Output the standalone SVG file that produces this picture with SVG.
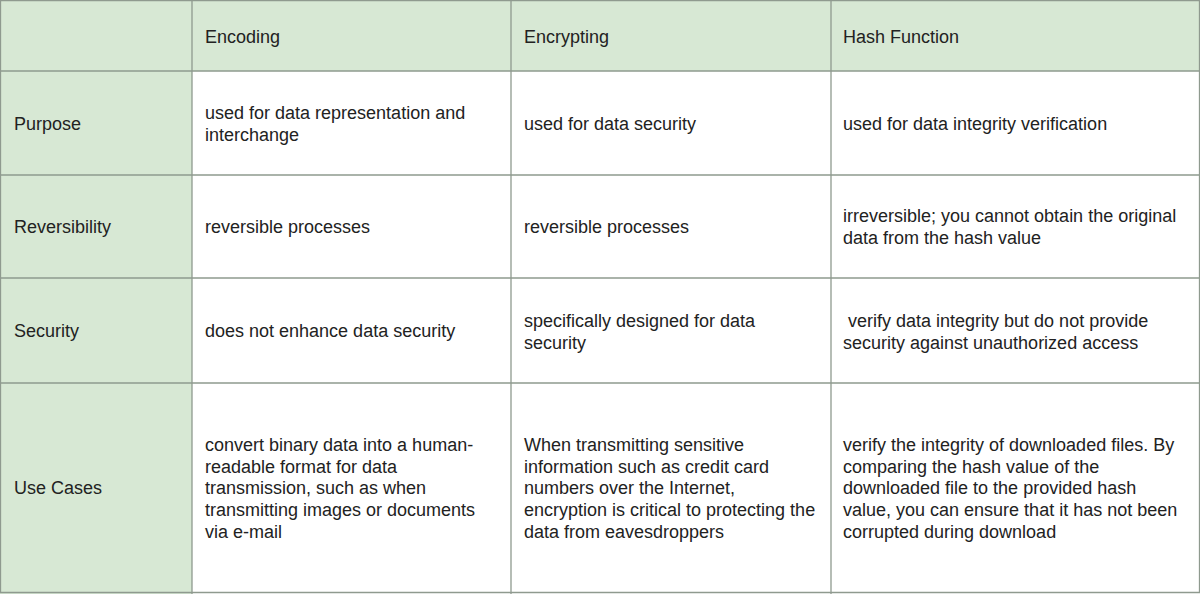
<svg xmlns="http://www.w3.org/2000/svg" width="1200" height="594" viewBox="0 0 1200 594">
<style>
.g{fill:#d7e8d4}
.ln{stroke:#8f9a8f;stroke-width:1.3;fill:none}
text{font-family:"Liberation Sans",Arial,sans-serif;font-size:18px;fill:#222}
</style>
<rect width="1200" height="594" fill="#fff"/>
<g id="backgrounds">
<rect class="g" x="0" y="0" width="1200" height="71"/>
<rect class="g" x="0" y="71" width="192" height="523"/>
</g>
<g id="grid">
<path class="ln" d="M0.5 0.5H1199.5V592.5H0.5Z M0 71H1200 M0 175H1200 M0 278H1200 M0 383H1200 M192 0V594 M511 0V594 M831 0V594"/>
</g>
<g id="header">
<text x="205" y="43">Encoding</text>
<text x="524" y="43">Encrypting</text>
<text x="843" y="43">Hash Function</text>
</g>
<g id="row-purpose">
<text x="14" y="130">Purpose</text>
<text x="205" y="119">used for data representation and</text>
<text x="205" y="141">interchange</text>
<text x="524" y="130">used for data security</text>
<text x="843" y="130">used for data integrity verification</text>
</g>
<g id="row-reversibility">
<text x="14" y="233">Reversibility</text>
<text x="205" y="233">reversible processes</text>
<text x="524" y="233">reversible processes</text>
<text x="843" y="222">irreversible; you cannot obtain the original</text>
<text x="843" y="244">data from the hash value</text>
</g>
<g id="row-security">
<text x="14" y="337">Security</text>
<text x="205" y="337">does not enhance data security</text>
<text x="524" y="327">specifically designed for data</text>
<text x="524" y="349">security</text>
<text x="843" y="327" xml:space="preserve"> verify data integrity but do not provide</text>
<text x="843" y="349">security against unauthorized access</text>
</g>
<g id="row-usecases">
<text x="14" y="494">Use Cases</text>
<text x="205" y="451">convert binary data into a human-</text>
<text x="205" y="473">readable format for data</text>
<text x="205" y="494">transmission, such as when</text>
<text x="205" y="516">transmitting images or documents</text>
<text x="205" y="538">via e-mail</text>
<text x="524" y="451">When transmitting sensitive</text>
<text x="524" y="473">information such as credit card</text>
<text x="524" y="494">numbers over the Internet,</text>
<text x="524" y="516">encryption is critical to protecting the</text>
<text x="524" y="538">data from eavesdroppers</text>
<text x="843" y="451">verify the integrity of downloaded files. By</text>
<text x="843" y="473">comparing the hash value of the</text>
<text x="843" y="494">downloaded file to the provided hash</text>
<text x="843" y="516">value, you can ensure that it has not been</text>
<text x="843" y="538">corrupted during download</text>
</g>
</svg>
